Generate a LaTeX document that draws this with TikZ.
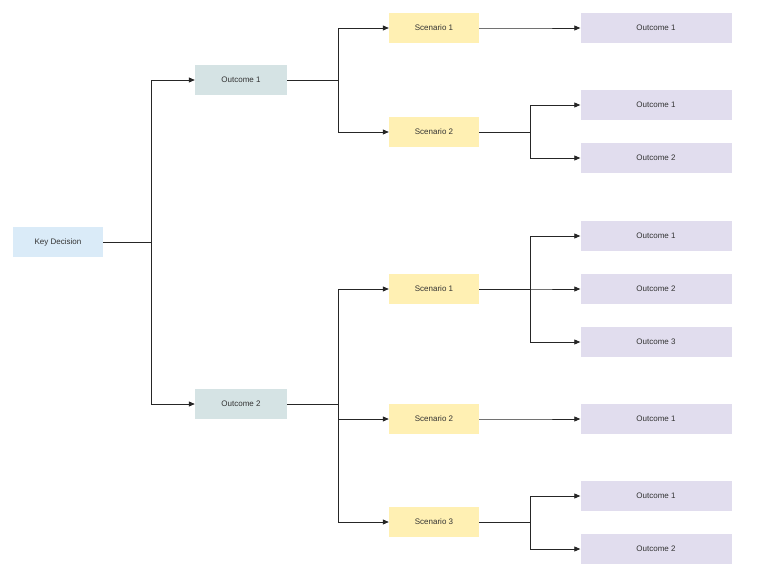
\documentclass[tikz,border=0pt]{standalone}
\usepackage{fontspec}
\setmainfont{Liberation Sans}
\usetikzlibrary{arrows.meta}

\definecolor{colorKey}{HTML}{DAEBF8}
\definecolor{colorOut}{HTML}{D5E3E4}
\definecolor{colorScn}{HTML}{FFF0B3}
\definecolor{colorRes}{HTML}{E1DDEE}

\begin{document}
\begin{tikzpicture}[
  x=1pt, y=-1pt,
  box/.style={minimum height=30pt, inner sep=0pt, font=\fontsize{8}{9}\selectfont, text=black!80},
  key/.style={box, fill=colorKey, minimum width=90pt},
  outc/.style={box, fill=colorOut, minimum width=92pt},
  scn/.style={box, fill=colorScn, minimum width=90pt},
  res/.style={box, fill=colorRes, minimum width=151pt},
  arrow/.style={draw, black!85, line width=0.8pt, -{Triangle[length=6pt,width=5pt]}},
]
\useasboundingbox (0,0) rectangle (768,586);
%-------------------------------------------------------------
% Boxes
\node[key] (K) at (58,242) {Key Decision};

\node[outc] (O1) at (241,80) {Outcome 1};
\node[outc] (O2) at (241,404) {Outcome 2};

\node[scn] (S11) at (434,28) {Scenario 1};
\node[scn] (S12) at (434,132) {Scenario 2};
\node[scn] (S21) at (434,289) {Scenario 1};
\node[scn] (S22) at (434,419) {Scenario 2};
\node[scn] (S23) at (434,522) {Scenario 3};

\node[res] (R111) at (656,28) {Outcome 1};
\node[res] (R121) at (656,105) {Outcome 1};
\node[res] (R122) at (656,158) {Outcome 2};
\node[res] (R211) at (656,236) {Outcome 1};
\node[res] (R212) at (656,289) {Outcome 2};
\node[res] (R213) at (656,342) {Outcome 3};
\node[res] (R221) at (656,419) {Outcome 1};
\node[res] (R231) at (656,496) {Outcome 1};
\node[res] (R232) at (656,549) {Outcome 2};

%-------------------------------------------------------------
% Connectors
\foreach \a/\b in {K/O1, K/O2}
  \draw[arrow] (\a.east) -- ++(48,0) |- (\b.west);
\foreach \a/\b in {O1/S11, O1/S12, O2/S21, O2/S22, O2/S23}
  \draw[arrow] (\a.east) -- ++(51,0) |- (\b.west);
\foreach \a/\b in {S11/R111, S12/R121, S12/R122, S21/R211, S21/R212, S21/R213,
                   S22/R221, S23/R231, S23/R232}
  \draw[arrow] (\a.east) -- ++(51,0) |- (\b.west);
\end{tikzpicture}
\end{document}
